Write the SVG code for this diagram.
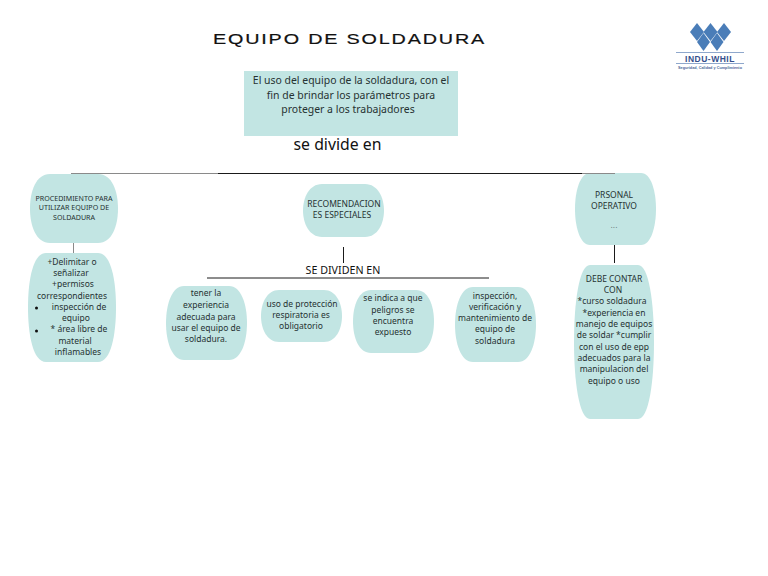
<svg xmlns="http://www.w3.org/2000/svg" width="768" height="576" viewBox="0 0 768 576">
<style>
.n{fill:#c2e5e3}
.t{font-family:"Noto Sans","Liberation Sans",sans-serif;fill:#263232;text-anchor:middle}
.s7{font-size:7.1px}
.s8{font-size:8.5px}
.l{stroke:#1a1a1a;stroke-width:1;fill:none}
.g{stroke:#8a8a8a;stroke-width:1;fill:none}
.d{fill:#4a7db8}
</style>
<rect width="768" height="576" fill="#fff"/>
<g id="title"><text x="213" y="44" font-family="'Liberation Sans',sans-serif" font-size="14" letter-spacing="1.300" textLength="273" lengthAdjust="spacingAndGlyphs" fill="#111" stroke="#111" stroke-width=".2">EQUIPO DE SOLDADURA</text></g>
<g id="logo">
<polygon class="d" points="697,23 704,32 697,41 690,32"/>
<polygon class="d" points="710.500,23 717.500,32 710.500,41 703.500,32"/>
<polygon class="d" points="724,23 731,32 724,41 717,32"/>
<polygon class="d" points="703.500,33 710,42 703.500,51 697,42"/>
<polygon class="d" points="717,33 723.500,42 717,51 710.500,42"/>
<rect x="676" y="52" width="68" height="1" fill="#8fa8cc"/>
<text x="710" y="61.500" font-family="'Liberation Sans',sans-serif" font-size="8.500" font-weight="700" letter-spacing=".5" text-anchor="middle" fill="#35508c">INDU-WHIL</text>
<rect x="676" y="63" width="68" height="1" fill="#8fa8cc"/>
<text x="710" y="69" font-family="'Liberation Sans',sans-serif" font-size="3.800" font-weight="700" text-anchor="middle" fill="#4a6798">Seguridad, Calidad y Cumplimiento</text>
</g>
<g id="intro">
<rect class="n" x="244" y="71" width="214" height="65"/>
<text class="t" font-size="10.450" x="351" y="84">El uso del equipo de la soldadura, con el</text>
<text class="t" font-size="10.450" x="351" y="99">fin de brindar los parámetros para</text>
<text class="t" font-size="10.450" x="348" y="113">proteger a los trabajadores</text>
</g>
<g id="label-divide"><text x="337.500" y="150" font-family="'Noto Sans',sans-serif" font-size="15.800" text-anchor="middle" fill="#111">se divide en</text></g>
<g id="procedimiento">
<path class="n" d="M50 174H98C112 174 118 191 118 208.500C118 226 112 243 98 243H50C36 243 30 226 30 208.500C30 191 36 174 50 174Z"/>
<text class="t s7" x="74" y="201">PROCEDIMIENTO PARA</text>
<text class="t s7" x="74" y="210">UTILIZAR EQUIPO DE</text>
<text class="t s7" x="74" y="220">SOLDADURA</text>
</g>
<g id="delimitar">
<path class="n" d="M46 253H98C111 253 116 280 116 307.500C116 335 111 362 98 362H46C33 362 28 335 28 307.500C28 280 33 253 46 253Z"/>
<text class="t s8" x="72" y="265">+Delimitar o</text>
<text class="t s8" x="71" y="276">señalizar</text>
<text class="t s8" x="73" y="287">+permisos</text>
<text class="t s8" x="72" y="299">correspondientes</text>
<circle cx="36.500" cy="308" r="1.500" fill="#111"/>
<text class="t s8" x="79" y="310">inspección de</text>
<text class="t s8" x="76" y="321">equipo</text>
<circle cx="36.500" cy="331" r="1.500" fill="#111"/>
<text class="t s8" x="79" y="332">* área libre de</text>
<text class="t s8" x="75" y="344">material</text>
<text class="t s8" x="78" y="355">inflamables</text>
</g>
<g id="recomendaciones">
<path class="n" d="M322 184H365C378 184 384 198 384 210.500C384 223 378 237 365 237H322C309 237 303 223 303 210.500C303 198 309 184 322 184Z"/>
<text class="t s8" x="344" y="207">RECOMENDACION</text>
<text class="t s8" x="342" y="218">ES ESPECIALES</text>
</g>
<g id="label-dividen"><text x="343" y="274" font-family="'Noto Sans',sans-serif" font-size="10.700" text-anchor="middle" fill="#111">SE DIVIDEN EN</text></g>
<g id="experiencia">
<path class="n" d="M184 286H229C241 286 247 304 247 323C247 342 241 360 229 360H184C172 360 166 342 166 323C166 304 172 286 184 286Z"/>
<text class="t s8" x="206" y="296">tener la</text>
<text class="t s8" x="206" y="308">experiencia</text>
<text class="t s8" x="206" y="320">adecuada para</text>
<text class="t s8" x="206" y="331">usar el equipo de</text>
<text class="t s8" x="206" y="342">soldadura.</text>
</g>
<g id="proteccion">
<path class="n" d="M279 290H324C336 290 342 303 342 316C342 329 336 342 324 342H279C267 342 261 329 261 316C261 303 267 290 279 290Z"/>
<text class="t s8" x="302" y="307">uso de protección</text>
<text class="t s8" x="301" y="318">respiratoria es</text>
<text class="t s8" x="301" y="329">obligatorio</text>
</g>
<g id="peligros">
<path class="n" d="M371 290H416C428 290 434 305 434 321.500C434 338 428 353 416 353H371C359 353 353 338 353 321.500C353 305 359 290 371 290Z"/>
<text class="t s8" x="393" y="301">se indica a que</text>
<text class="t s8" x="393" y="313">peligros se</text>
<text class="t s8" x="393" y="324">encuentra</text>
<text class="t s8" x="393" y="335">expuesto</text>
</g>
<g id="inspeccion">
<path class="n" d="M473 287H518C530 287 536 305 536 324.500C536 344 530 362 518 362H473C461 362 455 344 455 324.500C455 305 461 287 473 287Z"/>
<text class="t s8" x="495" y="299">inspección,</text>
<text class="t s8" x="495" y="310">verificación y</text>
<text class="t s8" x="495" y="321">mantenimiento de</text>
<text class="t s8" x="495" y="332">equipo de</text>
<text class="t s8" x="495" y="344">soldadura</text>
</g>
<g id="personal">
<path class="n" d="M590 173H641C651 173 656 191 656 209C656 227 651 245 641 245H590C580 245 575 227 575 209C575 191 580 173 590 173Z"/>
<text class="t s8" x="614" y="198">PRSONAL</text>
<text class="t s8" x="614" y="209">OPERATIVO</text>
<text class="t s8" x="614" y="228" fill-opacity=".6">...</text>
</g>
<g id="debe">
<path class="n" d="M590 265H638C649 265 654 303 654 342C654 381 649 419 638 419H590C579 419 574 381 574 342C574 303 579 265 590 265Z"/>
<text class="t s8" x="614" y="282">DEBE CONTAR</text>
<text class="t s8" x="613" y="293">CON</text>
<text class="t s8" x="612" y="304">*curso soldadura</text>
<text class="t s8" x="614" y="316">*experiencia en</text>
<text class="t s8" x="614" y="327">manejo de equipos</text>
<text class="t s8" x="614" y="338">de soldar *cumplir</text>
<text class="t s8" x="614" y="350">con el uso de epp</text>
<text class="t s8" x="614" y="361">adecuados para la</text>
<text class="t s8" x="614" y="372">manipulacion del</text>
<text class="t s8" x="614" y="384">equipo o uso</text>
</g>
<g id="connectors">
<path class="l" d="M218 173.500H582"/>
<path class="g" d="M71 173.500H218M582 173.500H615"/>
<path class="g" d="M73.500 243V253"/>
<path class="l" d="M343.500 247V263"/>
<path class="l" d="M207 278H489"/>
<path class="l" d="M614.500 245V263"/>
</g>
</svg>
